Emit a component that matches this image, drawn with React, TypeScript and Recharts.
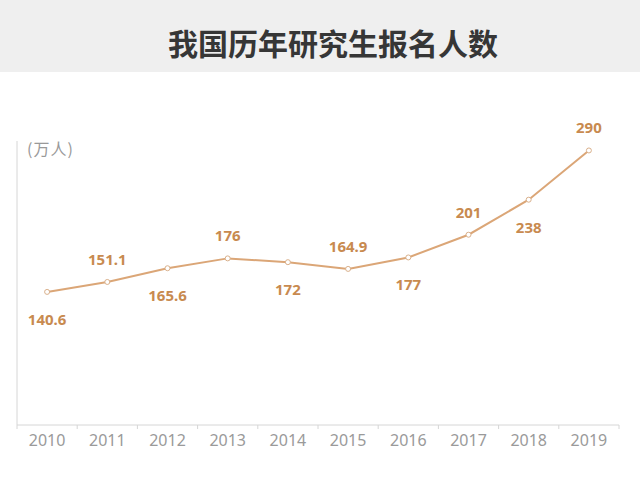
import React from "react";
import { LineChart, Line, XAxis, YAxis, LabelList } from "recharts";

const years = ["2010", "2011", "2012", "2013", "2014", "2015", "2016", "2017", "2018", "2019"];
const applicants = [140.6, 151.1, 165.6, 176, 172, 164.9, 177, 201, 238, 290];

const title = "我国历年研究生报名人数";
const unitLabel = "(万人)";

const data = years.map((year, i) => ({ year, value: applicants[i] }));

const LINE_COLOR = "#dba677";
const LABEL_COLOR = "#c88a4f";
const AXIS_COLOR = "#d6d6d6";
const FONT = '"Noto Sans", "Noto Sans CJK SC", sans-serif';

function YearTick(props: any) {
  const { x, y, payload, index, width, visibleTicksCount } = props;
  const count = visibleTicksCount || years.length;
  const half = width / count / 2;
  const isLast = index === count - 1;
  return (
    <g>
      <line x1={x - half} y1={y} x2={x - half} y2={y + 4} stroke={AXIS_COLOR} />
      {isLast && <line x1={x + half} y1={y} x2={x + half} y2={y + 4} stroke={AXIS_COLOR} />}
      <text x={x} y={y + 21} textAnchor="middle" fill="#9a9a9a" fontSize={16} fontFamily={FONT}>
        {payload.value}
      </text>
    </g>
  );
}

function ValueLabel(props: any) {
  const { x, y, value, index } = props;
  // labels alternate below / above the line
  const below = index % 2 === 0;
  return (
    <text
      x={x}
      y={below ? y + 33 : y - 17}
      textAnchor="middle"
      fill={LABEL_COLOR}
      fontSize={15}
      fontWeight="bold"
      fontFamily={FONT}
    >
      {value}
    </text>
  );
}

export default function App() {
  return (
    <div style={{ position: "absolute", left: 0, top: 0, width: 640, height: 492, background: "#fff" }}>
      <div
        style={{
          position: "absolute",
          left: 0,
          top: 0,
          width: 640,
          height: 72,
          background: "#efefef",
          color: "#363636",
          fontFamily: '"Noto Sans CJK SC", sans-serif',
          fontWeight: "bold",
          fontSize: 30,
          lineHeight: "84px",
          textAlign: "center",
          paddingLeft: 26,
          boxSizing: "border-box",
        }}
      >
        {title}
      </div>
      <div
        style={{
          position: "absolute",
          left: 27,
          top: 136,
          color: "#999",
          fontFamily: '"Noto Sans CJK SC", sans-serif',
          fontSize: 16,
          letterSpacing: 1,
        }}
      >
        {unitLabel}
      </div>
      <LineChart
        width={640}
        height={492}
        data={data}
        margin={{ top: 141, right: 21, left: 16, bottom: 0 }}
      >
        <XAxis
          dataKey="year"
          scale="band"
          interval={0}
          tickLine={false}
          tickSize={0}
          tickMargin={0}
          axisLine={{ stroke: AXIS_COLOR }}
          tick={<YearTick />}
          height={67}
        />
        <YAxis
          width={1}
          domain={[0, 300]}
          tick={false}
          tickLine={false}
          axisLine={{ stroke: AXIS_COLOR }}
        />
        <Line
          type="linear"
          dataKey="value"
          stroke={LINE_COLOR}
          strokeWidth={2}
          dot={{ r: 2.5, fill: "#fff", stroke: "#d9b08b", strokeWidth: 1 }}
          isAnimationActive={false}
        >
          <LabelList dataKey="value" content={<ValueLabel />} />
        </Line>
      </LineChart>
    </div>
  );
}
